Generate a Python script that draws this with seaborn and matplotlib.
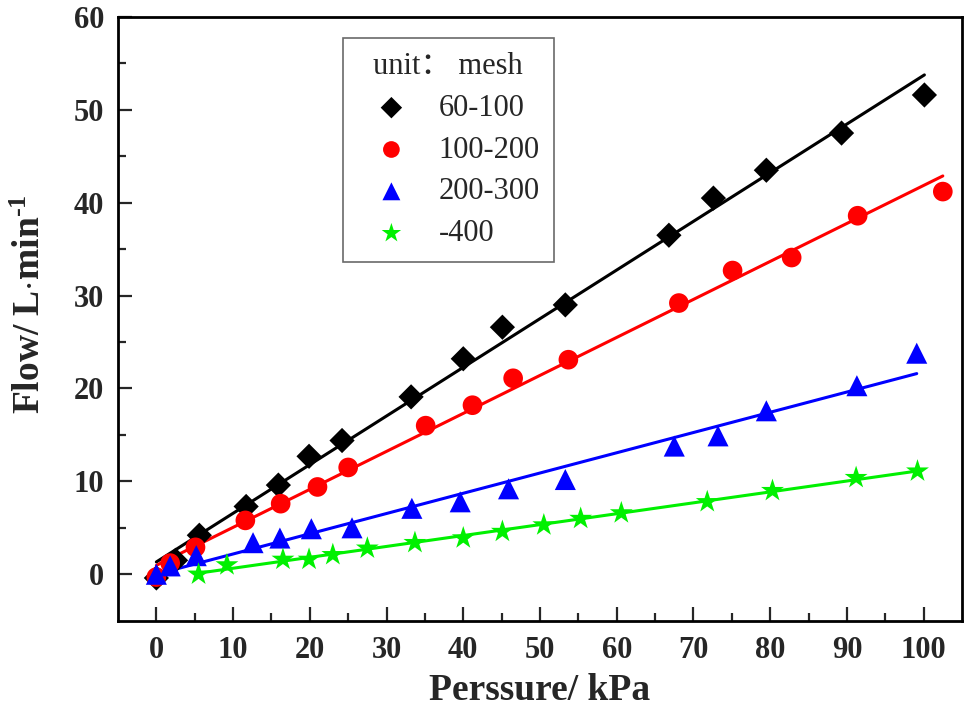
import numpy as np
import matplotlib
matplotlib.use('Agg')
import matplotlib.pyplot as plt
import seaborn as sns
from matplotlib.ticker import FixedLocator

# pressure (kPa) and flow (L/min), one pair per mesh size
p_60_100 = [0, 2.5, 5.6, 11.7, 15.9, 19.9, 24.2, 33.2, 40.0, 45.1, 53.3, 66.8, 72.6, 79.5, 89.3, 100.1]
f_60_100 = [-0.4, 1.5, 4.2, 7.3, 9.6, 12.7, 14.4, 19.1, 23.2, 26.6, 29.0, 36.5, 40.5, 43.5, 47.5, 51.6]

p_100_200 = [0, 1.8, 5.1, 11.6, 16.2, 21.0, 25.0, 35.1, 41.2, 46.5, 53.7, 68.1, 75.1, 82.8, 91.4, 102.5]
f_100_200 = [-0.3, 1.2, 2.9, 5.8, 7.6, 9.4, 11.5, 16.0, 18.2, 21.1, 23.1, 29.2, 32.7, 34.1, 38.6, 41.2]

p_200_300 = [0, 1.8, 5.2, 12.6, 16.1, 20.2, 25.5, 33.3, 39.6, 45.9, 53.3, 67.5, 73.2, 79.5, 91.3, 99.1]
f_200_300 = [0.0, 0.9, 2.0, 3.4, 3.9, 4.9, 5.0, 7.1, 7.8, 9.2, 10.2, 13.8, 14.9, 17.6, 20.3, 23.8]

p_400 = [5.5, 9.2, 16.5, 19.9, 23.0, 27.5, 33.7, 40.0, 45.1, 50.5, 55.3, 60.6, 71.8, 80.3, 91.2, 99.2]
f_400 = [0.0, 1.0, 1.6, 1.6, 2.1, 2.8, 3.4, 3.9, 4.6, 5.3, 6.0, 6.6, 7.8, 9.0, 10.4, 11.1]

labels = ["60-100", "100-200", "200-300", "-400"]
markers = ['D', 'o', '^', '*']
colors = ['#000000', '#FF0000', '#0000FF', '#00F000']
sizes = [165, 200, 230, 300]

sns.set_style('ticks')
plt.rcParams['font.family'] = ['Liberation Serif', 'Noto Sans CJK SC']
plt.rcParams['mathtext.fontset'] = 'custom'
plt.rcParams['mathtext.rm'] = 'Liberation Serif:bold'
plt.rcParams['mathtext.it'] = 'Liberation Serif:bold'
plt.rcParams['mathtext.bf'] = 'Liberation Serif:bold'

fig = plt.figure(figsize=(9.68, 7.22), dpi=100)
ax = fig.add_axes([0.1219, 0.1403, 0.8719, 0.8362])

data = [(p_60_100, f_60_100), (p_100_200, f_100_200), (p_200_300, f_200_300), (p_400, f_400)]
handles = []
for (p, f), lab, mk, col, sz in zip(data, labels, markers, colors, sizes):
    # straight-line fit over each series' own range, then the measured points
    sns.regplot(x=np.array(p), y=np.array(f), ax=ax, scatter=False, ci=None,
                truncate=True, line_kws=dict(color=col, lw=2.2))
    sns.scatterplot(x=p, y=f, ax=ax, marker=mk, s=sz, color=col,
                    edgecolor='none', linewidth=0, zorder=3)
    handles.append(ax.collections[-1])

ax.set_xlim(-5, 105)
ax.set_ylim(-5, 60)
ax.xaxis.set_major_locator(FixedLocator(np.arange(0, 101, 10)))
ax.xaxis.set_minor_locator(FixedLocator(np.arange(5, 100, 10)))
ax.yaxis.set_major_locator(FixedLocator(np.arange(0, 61, 10)))
ax.yaxis.set_minor_locator(FixedLocator(np.arange(5, 60, 10)))

ax.tick_params(which='major', direction='in', length=10, width=1.6,
               labelsize=22, top=False, right=False)
ax.tick_params(which='minor', direction='in', length=5.5, width=1.6,
               top=False, right=False)
ax.tick_params(axis='x', which='major', pad=11)
ax.tick_params(axis='y', which='major', pad=10)
for lbl in ax.get_xticklabels() + ax.get_yticklabels():
    lbl.set_fontweight('bold')
for s in ax.spines.values():
    s.set_visible(True)
    s.set_linewidth(2)
    s.set_color('black')

ax.set_xlabel('Perssure/ kPa', fontsize=27, fontweight='bold', labelpad=6)
ax.set_ylabel(r'Flow/ L$\cdot$min$^{\text{-1}}$', fontsize=27, fontweight='bold')
ax.yaxis.set_label_coords(-0.083, 0.525)

leg = ax.legend(handles, labels, title='unit： mesh', loc='upper left',
                bbox_to_anchor=(0.266, 0.965), borderaxespad=0,
                frameon=True, fancybox=False, edgecolor='#444444',
                prop={'size': 22}, title_fontsize=22, handlelength=2.3,
                handletextpad=0.4, labelspacing=0.42, borderpad=0.45,
                markerscale=0.85)
leg.get_frame().set_linewidth(1.2)

fig.savefig('out.png', dpi=100)
